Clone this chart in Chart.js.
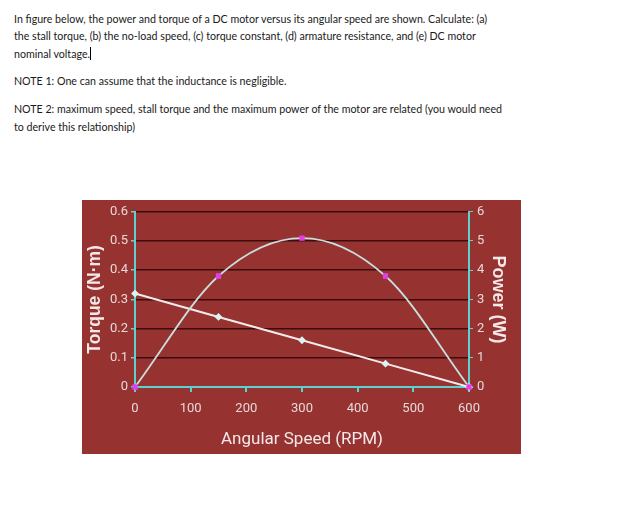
<!DOCTYPE html>
<html>
<head>
<meta charset="utf-8">
<script src="https://cdn.jsdelivr.net/npm/chart.js@4/dist/chart.umd.min.js"></script>
<style>
  body { margin: 0; background: #fff; width: 627px; height: 523px; overflow: hidden; position: relative; }
  .ln { position: absolute; left: 14px; white-space: nowrap; font-family: Lato, "Noto Sans", sans-serif; font-size: 10.65px; color: #1a1a1a; line-height: 17px; }
  .caret { display: inline-block; width: 0; height: 13px; border-left: 1px solid #000; vertical-align: -2px; }
  #wrap { position: absolute; left: 82px; top: 200px; width: 439px; height: 254px; }
</style>
</head>
<body>
<div class="ln" style="top:10px">In figure below, the power and torque of a DC motor versus its angular speed are shown. Calculate: (a)</div>
<div class="ln" style="top:27px">the stall torque, (b) the no-load speed, (c) torque constant, (d) armature resistance, and (e) DC motor</div>
<div class="ln" style="top:45px">nominal voltage.<span class="caret"></span></div>
<div class="ln" style="top:72px">NOTE 1: One can assume that the inductance is negligible.</div>
<div class="ln" style="top:100px">NOTE 2: maximum speed, stall torque and the maximum power of the motor are related (you would need</div>
<div class="ln" style="top:118px">to derive this relationship)</div>

<div id="wrap"><canvas id="motor_graph" width="439" height="254"></canvas></div>

<script>
// values
const speeds = [0, 150, 300, 450, 600];       // RPM
const torque = [0.32, 0.24, 0.16, 0.08, 0];   // N·m
const power = [0, 3.8, 5.1, 3.8, 0];          // W

const narrow = 'Roboto, sans-serif';
const cyan = '#5fd0d0';
const tickText = '#e8d8d8';

const panel = {
    id: 'panel',
    beforeDraw(chart) {
        const ctx = chart.ctx;
        ctx.save();
        ctx.fillStyle = '#963230';
        ctx.fillRect(0, 0, chart.width, chart.height);
        ctx.restore();
    }
};

function pairs(xs, ys) {
    return xs.map(function (x, i) { return { x: x, y: ys[i] }; });
}

new Chart(document.getElementById('motor_graph'), {
    type: 'line',
    data: {
        datasets: [
            {
                label: 'Power',
                data: pairs(speeds, power),
                yAxisID: 'y1',
                borderColor: '#c9dede',
                borderWidth: 1.8,
                cubicInterpolationMode: 'monotone',
                pointStyle: 'rect',
                pointRadius: 2.5,
                pointBackgroundColor: '#e040e8',
                pointBorderColor: '#e040e8',
                clip: false
            },
            {
                label: 'Torque',
                data: pairs(speeds, torque),
                yAxisID: 'y',
                borderColor: '#f4ecec',
                borderWidth: 2,
                tension: 0,
                pointStyle: 'rectRot',
                pointRadius: 2.5,
                pointBackgroundColor: '#d8f4f4',
                pointBorderColor: '#d8f4f4',
                clip: false
            }
        ]
    },
    options: {
        responsive: false,
        animation: false,
        layout: { padding: { top: 10, left: 0, right: 0, bottom: 0 } },
        plugins: { legend: { display: false }, tooltip: { enabled: false } },
        scales: {
            x: {
                type: 'linear',
                min: 0, max: 600,
                afterFit(s) { s.height = 67; },
                ticks: { stepSize: 100, color: tickText, padding: 9, font: { family: narrow, size: 13 } },
                grid: { drawOnChartArea: false, color: cyan, tickColor: cyan, tickLength: 5, lineWidth: 2 },
                border: { color: cyan, width: 2 },
                title: { display: true, text: 'Angular Speed (RPM)', color: '#f4e8e8', padding: { top: 4 }, font: { family: narrow, size: 17 } }
            },
            y: {
                position: 'left',
                min: 0, max: 0.6,
                afterFit(s) { s.width = 53; },
                ticks: { stepSize: 0.1, color: tickText, padding: 3, font: { family: narrow, size: 13 } },
                grid: { color: '#3c0c0c', lineWidth: 1.5, tickColor: cyan, tickLength: 4 },
                border: { color: cyan, width: 2 },
                title: { display: true, text: 'Torque (N·m)', color: '#f4e8e8', padding: { top: 3, bottom: 0 }, font: { family: 'Liberation Sans', size: 17.5, weight: 'bold' } }
            },
            y1: {
                position: 'right',
                min: 0, max: 6,
                afterFit(s) { s.width = 52; },
                ticks: { stepSize: 1, color: tickText, padding: 4, font: { family: narrow, size: 13 } },
                grid: { drawOnChartArea: false, tickColor: cyan, tickLength: 4 },
                border: { color: cyan, width: 2 },
                title: { display: true, text: 'Power (W)', color: '#f4e8e8', padding: { top: 12, bottom: 12 }, font: { family: 'Liberation Sans', size: 18, weight: 'bold' } }
            }
        }
    },
    plugins: [panel]
});
</script>
</body>
</html>
